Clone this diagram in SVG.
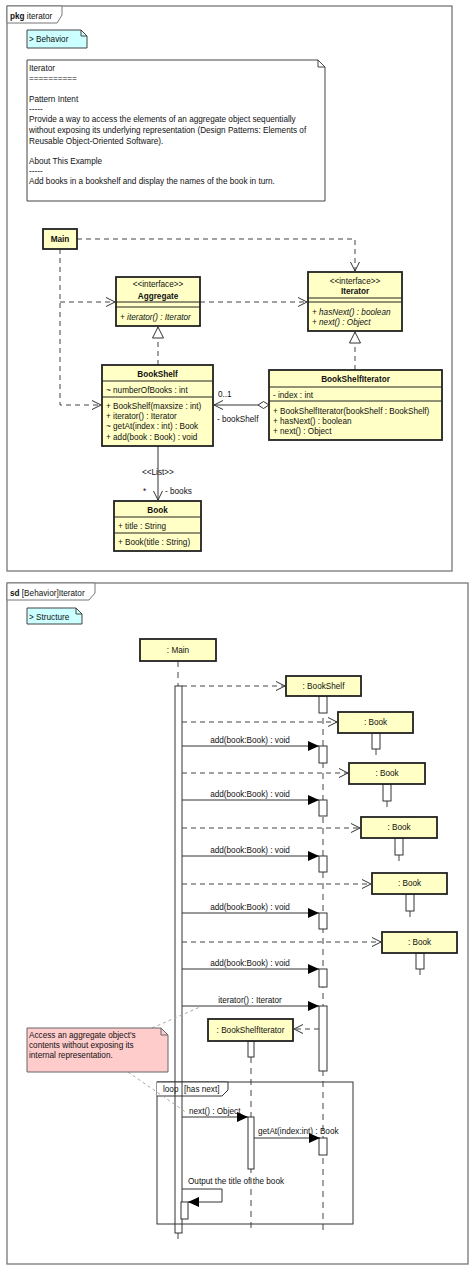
<svg xmlns="http://www.w3.org/2000/svg" width="474" height="1271" viewBox="0 0 474 1271">
<style>
text{font-family:"Liberation Sans",Arial,sans-serif;fill:#111;font-size:8.2px}
.b{font-weight:bold}
.i{font-style:italic}
.m{text-anchor:middle}
.frame{fill:none;stroke:#777;stroke-width:1.3}
.tab{fill:#fff;stroke:#777;stroke-width:1}
.cls{fill:#FFFFC6;stroke:#222;stroke-width:1.8}
.sep{stroke:#222;stroke-width:1}
.note{fill:#fff;stroke:#444;stroke-width:1}
.cyan{fill:#CCFFFF;stroke:#444;stroke-width:1}
.pink{fill:#FFCCCC;stroke:#666;stroke-width:1}
.dash{fill:none;stroke:#444;stroke-width:1;stroke-dasharray:5,4}
.solid{fill:none;stroke:#333;stroke-width:1}
.life{fill:none;stroke:#444;stroke-width:1;stroke-dasharray:6,5}
.bar{fill:#fff;stroke:#333;stroke-width:1}
.anch{fill:none;stroke:#aaa;stroke-width:1;stroke-dasharray:3,3}
</style>
<defs>
<marker id="open" markerUnits="userSpaceOnUse" markerWidth="12" markerHeight="12" viewBox="0 0 12 12" refX="10" refY="6" orient="auto">
<path d="M1,1.5 L10,6 L1,10.5" fill="none" stroke="#333" stroke-width="1"/>
</marker>
<marker id="tri" markerUnits="userSpaceOnUse" markerWidth="14" markerHeight="14" viewBox="0 0 14 14" refX="12" refY="7" orient="auto">
<path d="M1,1.5 L12,7 L1,12.5 Z" fill="#fff" stroke="#333" stroke-width="1"/>
</marker>
<marker id="fill" markerUnits="userSpaceOnUse" markerWidth="12" markerHeight="12" viewBox="0 0 12 12" refX="11" refY="6" orient="auto">
<path d="M0,1 L11,6 L0,11 Z" fill="#000"/>
</marker>
</defs>

<!-- Package frame -->
<g id="pkg-frame">
<rect class="frame" x="7" y="6" width="445" height="565"/>
<path class="tab" d="M7,6 H62 V15 L57,23 H7 Z"/>
<text x="10" y="19"><tspan class="b">pkg</tspan> iterator</text>
</g>

<g id="note-behavior">
<path class="cyan" d="M27,30 H81 L87,36 V48 H27 Z"/>
<path d="M81,30 V36 H87" fill="none" stroke="#444" stroke-width="1"/>
<text x="29" y="42">&gt; Behavior</text>
</g>

<g id="note-intent">
<path class="note" d="M27,60 H318 L325,67 V201 H27 Z"/>
<path d="M318,60 V67 H325" fill="none" stroke="#444" stroke-width="1"/>
<text x="29" y="71">Iterator</text>
<text x="29" y="81">==========</text>
<text x="29" y="102">Pattern Intent</text>
<text x="29" y="112">-----</text>
<text x="29" y="122">Provide a way to access the elements of an aggregate object sequentially</text>
<text x="29" y="133">without exposing its underlying representation (Design Patterns: Elements of</text>
<text x="29" y="144">Reusable Object-Oriented Software).</text>
<text x="29" y="164">About This Example</text>
<text x="29" y="174">-----</text>
<text x="29" y="184">Add books in a bookshelf and display the names of the book in turn.</text>
</g>

<g id="class-connectors">
<path class="dash" d="M77,239 H355 V271" marker-end="url(#open)"/>
<path class="dash" d="M60,249 V405 H101" marker-end="url(#open)"/>
<path class="dash" d="M60,302 H115" marker-end="url(#open)"/>
<path class="dash" d="M200,302 H307" marker-end="url(#open)"/>
<path class="dash" d="M158,365 V327" marker-end="url(#tri)"/>
<path class="dash" d="M355,370 V332" marker-end="url(#tri)"/>
<path class="solid" d="M258,405 H214" marker-end="url(#open)"/>
<polygon points="269,405 263.5,401.5 258,405 263.5,408.5" fill="#fff" stroke="#333" stroke-width="1"/>
<path class="solid" d="M158,446 V500" marker-end="url(#open)"/>
<text x="218" y="397">0..1</text>
<text x="217" y="422">- bookShelf</text>
<text x="142" y="475">&lt;&lt;List&gt;&gt;</text>
<text x="143" y="494">*</text>
<text x="165" y="494">- books</text>
</g>

<g id="Main">
<rect class="cls" x="43" y="229" width="34" height="20"/>
<text class="b m" x="60" y="242">Main</text>
</g>

<g id="Aggregate">
<rect class="cls" x="116" y="277" width="84" height="49"/>
<text class="m" x="158" y="287">&lt;&lt;interface&gt;&gt;</text>
<text class="b m" x="158" y="299">Aggregate</text>
<line class="sep" x1="116" y1="302" x2="200" y2="302"/>
<line class="sep" x1="116" y1="307" x2="200" y2="307"/>
<text class="i" x="120" y="320">+ iterator() : Iterator</text>
</g>

<g id="Iterator">
<rect class="cls" x="308" y="272" width="94" height="59"/>
<text class="m" x="355" y="284">&lt;&lt;interface&gt;&gt;</text>
<text class="b m" x="355" y="294">Iterator</text>
<line class="sep" x1="308" y1="298" x2="402" y2="298"/>
<line class="sep" x1="308" y1="302" x2="402" y2="302"/>
<text class="i" x="312" y="315">+ hasNext() : boolean</text>
<text class="i" x="312" y="325">+ next() : Object</text>
</g>

<g id="BookShelf">
<rect class="cls" x="102" y="365" width="111" height="81"/>
<text class="b m" x="157.5" y="377">BookShelf</text>
<line class="sep" x1="102" y1="381" x2="213" y2="381"/>
<text x="106" y="393">~ numberOfBooks : int</text>
<line class="sep" x1="102" y1="397" x2="213" y2="397"/>
<text x="106" y="409">+ BookShelf(maxsize : int)</text>
<text x="106" y="419">+ iterator() : Iterator</text>
<text x="106" y="429">~ getAt(index : int) : Book</text>
<text x="106" y="440">+ add(book : Book) : void</text>
</g>

<g id="BookShelfIterator">
<rect class="cls" x="269" y="370" width="173" height="70"/>
<text class="b m" x="355.5" y="382">BookShelfIterator</text>
<line class="sep" x1="269" y1="387" x2="442" y2="387"/>
<text x="273" y="398">- index : int</text>
<line class="sep" x1="269" y1="401" x2="442" y2="401"/>
<text x="273" y="414">+ BookShelfIterator(bookShelf : BookShelf)</text>
<text x="273" y="424">+ hasNext() : boolean</text>
<text x="273" y="434">+ next() : Object</text>
</g>

<g id="Book">
<rect class="cls" x="114" y="501" width="87" height="50"/>
<text class="b m" x="157.5" y="513">Book</text>
<line class="sep" x1="114" y1="517" x2="201" y2="517"/>
<text x="118" y="529">+ title : String</text>
<line class="sep" x1="114" y1="533" x2="201" y2="533"/>
<text x="118" y="545">+ Book(title : String)</text>
</g>

<!-- Sequence frame -->
<g id="sd-frame">
<rect class="frame" x="7" y="583" width="461" height="681"/>
<path class="tab" d="M7,583 H95 V593 L89,600 H7 Z"/>
<text x="10" y="596"><tspan class="b">sd</tspan> [Behavior]Iterator</text>
</g>

<g id="note-structure">
<path class="cyan" d="M27,608 H76 L82,614 V624 H27 Z"/>
<path d="M76,608 V614 H82" fill="none" stroke="#444" stroke-width="1"/>
<text x="29" y="620">&gt; Structure</text>
</g>

<g id="lifelines">
<path class="life" d="M178,661 V686 M178,1233 V1243"/>
<path class="life" d="M323,696 V1232"/>
<path class="life" d="M376,749 V758"/>
<path class="life" d="M387,801 V811"/>
<path class="life" d="M399,855 V865"/>
<path class="life" d="M410,911 V921"/>
<path class="life" d="M420,969 V979"/>
<path class="life" d="M251,1057 V1232"/>
</g>

<g id="loop-fragment">
<rect x="157" y="1082" width="196" height="142" fill="none" stroke="#333" stroke-width="1"/>
<path d="M157,1082 H228 V1090 L222,1096 H157" fill="#fff" stroke="#333" stroke-width="1"/>
<text x="163" y="1092">loop</text>
<text x="184" y="1092">[has next]</text>
</g>

<g id="activations">
<rect x="175" y="686" width="7" height="547" fill="none" stroke="#333" stroke-width="1"/>
<rect class="bar" x="319" y="696" width="8" height="17"/>
<rect class="bar" x="319" y="746" width="8" height="17"/>
<rect class="bar" x="319" y="800" width="8" height="16"/>
<rect class="bar" x="319" y="856" width="8" height="16"/>
<rect class="bar" x="319" y="913" width="8" height="16"/>
<rect class="bar" x="319" y="969" width="8" height="18"/>
<rect class="bar" x="319" y="1006" width="8" height="65"/>
<rect class="bar" x="319" y="1138" width="8" height="17"/>
<rect class="bar" x="372" y="733" width="8" height="16"/>
<rect class="bar" x="383" y="784" width="8" height="17"/>
<rect class="bar" x="395" y="838" width="8" height="17"/>
<rect class="bar" x="406" y="894" width="8" height="17"/>
<rect class="bar" x="416" y="953" width="8" height="16"/>
<rect class="bar" x="248" y="1041" width="6" height="16"/>
<rect class="bar" x="248" y="1117" width="6" height="52"/>
<rect class="bar" x="181" y="1202" width="7" height="17"/>
</g>

<g id="messages">
<path class="dash" d="M182,686 H285" marker-end="url(#open)"/>
<path class="dash" d="M182,722 H337" marker-end="url(#open)"/>
<path class="dash" d="M182,773 H348" marker-end="url(#open)"/>
<path class="dash" d="M182,828 H360" marker-end="url(#open)"/>
<path class="dash" d="M182,884 H371" marker-end="url(#open)"/>
<path class="dash" d="M182,942 H381" marker-end="url(#open)"/>
<path class="solid" d="M182,746 H319" marker-end="url(#fill)"/>
<text class="m" x="250" y="743">add(book:Book) : void</text>
<path class="solid" d="M182,800 H319" marker-end="url(#fill)"/>
<text class="m" x="250" y="797">add(book:Book) : void</text>
<path class="solid" d="M182,856 H319" marker-end="url(#fill)"/>
<text class="m" x="250" y="853">add(book:Book) : void</text>
<path class="solid" d="M182,913 H319" marker-end="url(#fill)"/>
<text class="m" x="250" y="910">add(book:Book) : void</text>
<path class="solid" d="M182,969 H319" marker-end="url(#fill)"/>
<text class="m" x="250" y="966">add(book:Book) : void</text>
<path class="solid" d="M182,1006 H319" marker-end="url(#fill)"/>
<text class="m" x="250" y="1003">iterator() : Iterator</text>
<path class="dash" d="M319,1029 H294" marker-end="url(#open)"/>
<path class="solid" d="M182,1117 H248" marker-end="url(#fill)"/>
<text x="189" y="1114">next() : Object</text>
<path class="solid" d="M254,1138 H320" marker-end="url(#fill)"/>
<text x="258" y="1134">getAt(index:int) : Book</text>
<path class="solid" d="M182,1189 H222 V1202 H188" marker-end="url(#fill)"/>
<text x="188" y="1184">Output the title of the book</text>
</g>

<g id="obj-Main">
<rect class="cls" x="140" y="639" width="76" height="22"/>
<text class="m" x="178" y="653">: Main</text>
</g>
<g id="obj-BookShelf">
<rect class="cls" x="286" y="676" width="75" height="20"/>
<text class="m" x="323.5" y="689">: BookShelf</text>
</g>
<g id="obj-Book1">
<rect class="cls" x="338" y="712" width="75" height="21"/>
<text class="m" x="375.5" y="725">: Book</text>
</g>
<g id="obj-Book2">
<rect class="cls" x="349" y="763" width="76" height="21"/>
<text class="m" x="387" y="776">: Book</text>
</g>
<g id="obj-Book3">
<rect class="cls" x="361" y="817" width="76" height="21"/>
<text class="m" x="399" y="830">: Book</text>
</g>
<g id="obj-Book4">
<rect class="cls" x="372" y="873" width="75" height="21"/>
<text class="m" x="409.5" y="886">: Book</text>
</g>
<g id="obj-Book5">
<rect class="cls" x="382" y="932" width="75" height="21"/>
<text class="m" x="419.5" y="945">: Book</text>
</g>
<g id="obj-BookShelfIterator">
<rect class="cls" x="208" y="1019" width="85" height="22"/>
<text class="m" x="250.5" y="1033">: BookShelfIterator</text>
</g>

<g id="note-access">
<path class="anch" d="M152,1028 L200,1007 M128,1072 L187,1113"/>
<path class="pink" d="M27,1028 H161 L168,1035 V1072 H27 Z"/>
<path d="M161,1028 V1035 H168" fill="none" stroke="#666" stroke-width="1"/>
<text x="29" y="1038">Access an aggregate object's</text>
<text x="29" y="1048">contents without exposing its</text>
<text x="29" y="1058">internal representation.</text>
</g>
</svg>
